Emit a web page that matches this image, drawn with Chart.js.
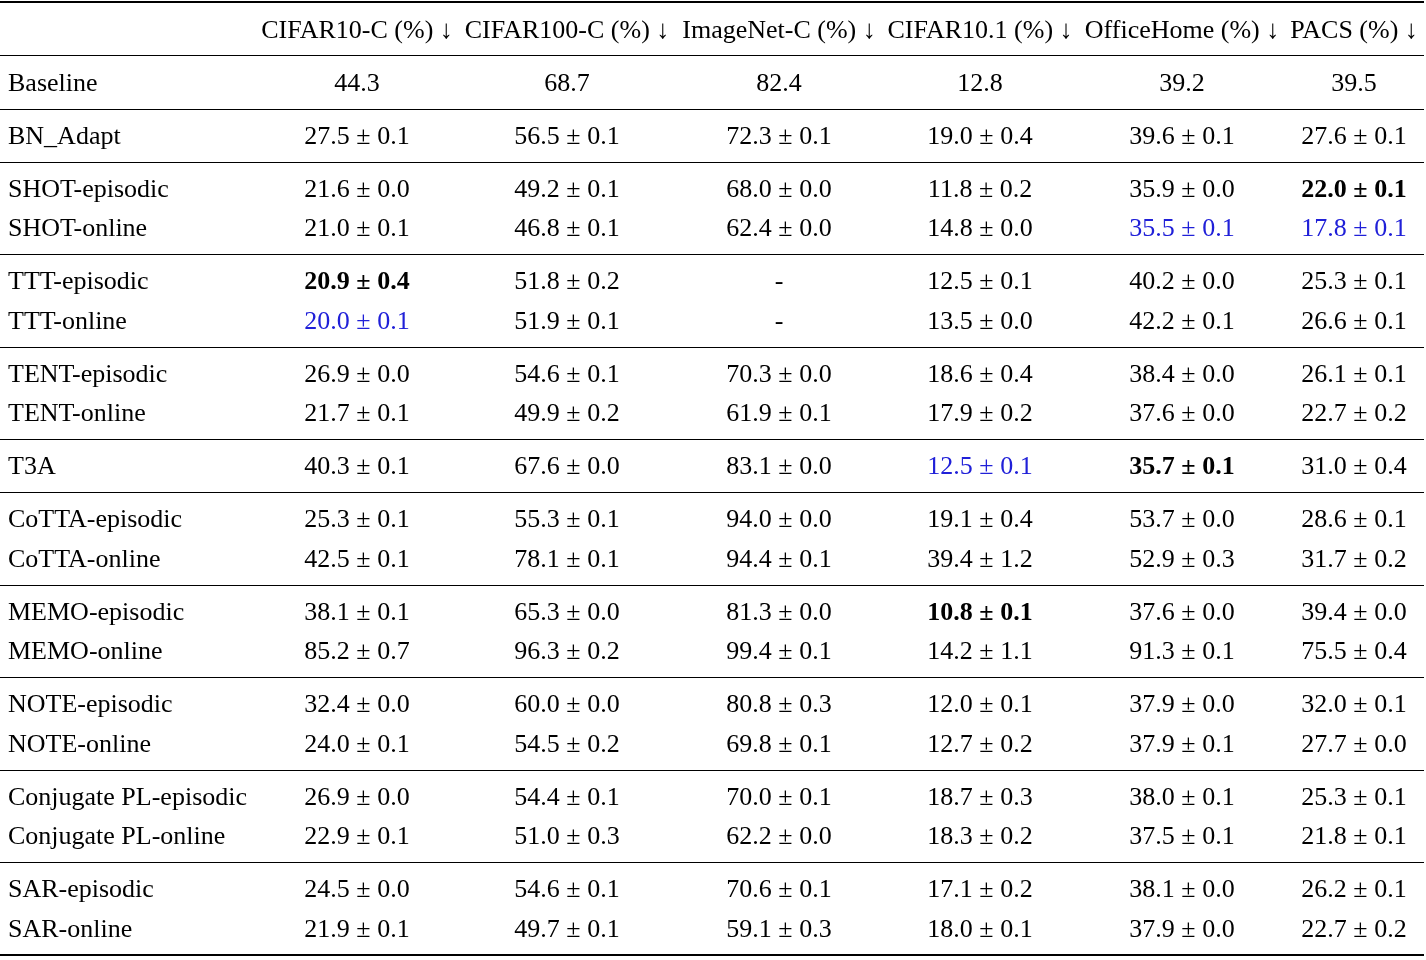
<!DOCTYPE html>
<html>
<head>
<meta charset="utf-8">
<script src="https://cdn.jsdelivr.net/npm/chart.js@4.4.0/dist/chart.umd.min.js"></script>
<style>html,body{margin:0;background:#fff}</style>
</head>
<body>
<canvas id="c" width="1426" height="960"></canvas>
<script>
const columns = ['CIFAR10-C (%) ↓', 'CIFAR100-C (%) ↓', 'ImageNet-C (%) ↓', 'CIFAR10.1 (%) ↓', 'OfficeHome (%) ↓', 'PACS (%) ↓'];
const groups = [
  ['Baseline'], ['BN_Adapt'], ['SHOT-episodic', 'SHOT-online'], ['TTT-episodic', 'TTT-online'],
  ['TENT-episodic', 'TENT-online'], ['T3A'], ['CoTTA-episodic', 'CoTTA-online'],
  ['MEMO-episodic', 'MEMO-online'], ['NOTE-episodic', 'NOTE-online'],
  ['Conjugate PL-episodic', 'Conjugate PL-online'], ['SAR-episodic', 'SAR-online']
];
const cifar10c = ['44.3','27.5 ± 0.1','21.6 ± 0.0','21.0 ± 0.1','20.9 ± 0.4','20.0 ± 0.1','26.9 ± 0.0','21.7 ± 0.1','40.3 ± 0.1','25.3 ± 0.1','42.5 ± 0.1','38.1 ± 0.1','85.2 ± 0.7','32.4 ± 0.0','24.0 ± 0.1','26.9 ± 0.0','22.9 ± 0.1','24.5 ± 0.0','21.9 ± 0.1'];
const cifar100c = ['68.7','56.5 ± 0.1','49.2 ± 0.1','46.8 ± 0.1','51.8 ± 0.2','51.9 ± 0.1','54.6 ± 0.1','49.9 ± 0.2','67.6 ± 0.0','55.3 ± 0.1','78.1 ± 0.1','65.3 ± 0.0','96.3 ± 0.2','60.0 ± 0.0','54.5 ± 0.2','54.4 ± 0.1','51.0 ± 0.3','54.6 ± 0.1','49.7 ± 0.1'];
const imagenetc = ['82.4','72.3 ± 0.1','68.0 ± 0.0','62.4 ± 0.0','-','-','70.3 ± 0.0','61.9 ± 0.1','83.1 ± 0.0','94.0 ± 0.0','94.4 ± 0.1','81.3 ± 0.0','99.4 ± 0.1','80.8 ± 0.3','69.8 ± 0.1','70.0 ± 0.1','62.2 ± 0.0','70.6 ± 0.1','59.1 ± 0.3'];
const cifar101 = ['12.8','19.0 ± 0.4','11.8 ± 0.2','14.8 ± 0.0','12.5 ± 0.1','13.5 ± 0.0','18.6 ± 0.4','17.9 ± 0.2','12.5 ± 0.1','19.1 ± 0.4','39.4 ± 1.2','10.8 ± 0.1','14.2 ± 1.1','12.0 ± 0.1','12.7 ± 0.2','18.7 ± 0.3','18.3 ± 0.2','17.1 ± 0.2','18.0 ± 0.1'];
const officehome = ['39.2','39.6 ± 0.1','35.9 ± 0.0','35.5 ± 0.1','40.2 ± 0.0','42.2 ± 0.1','38.4 ± 0.0','37.6 ± 0.0','35.7 ± 0.1','53.7 ± 0.0','52.9 ± 0.3','37.6 ± 0.0','91.3 ± 0.1','37.9 ± 0.0','37.9 ± 0.1','38.0 ± 0.1','37.5 ± 0.1','38.1 ± 0.0','37.9 ± 0.0'];
const pacs = ['39.5','27.6 ± 0.1','22.0 ± 0.1','17.8 ± 0.1','25.3 ± 0.1','26.6 ± 0.1','26.1 ± 0.1','22.7 ± 0.2','31.0 ± 0.4','28.6 ± 0.1','31.7 ± 0.2','39.4 ± 0.0','75.5 ± 0.4','32.0 ± 0.1','27.7 ± 0.0','25.3 ± 0.1','21.8 ± 0.1','26.2 ± 0.1','22.7 ± 0.2'];
const values = [cifar10c, cifar100c, imagenetc, cifar101, officehome, pacs];
// best (bold) and second best (blue) cells as "col,row"
const boldCells = ['0,4', '3,11', '4,8', '5,2'];
const blueCells = ['0,5', '3,8', '4,3', '5,3'];

// layout (pixels)
const colX = [357, 567, 779, 980, 1182, 1354];
const headerY = 31, firstRowY = 84, rowGap = 39.5, groupGap = 53;
const methods = [], rowY = [], sepY = [];
let y = firstRowY;
groups.forEach((g, gi) => {
  if (gi > 0) { sepY.push(y - groupGap / 2 - 2); }
  g.forEach((m, mi) => { methods.push(m); rowY.push(y); y += (mi < g.length - 1) ? rowGap : groupGap; });
});

const font = '26px "Liberation Serif", "DejaVu Serif", serif';
const tablePlugin = {
  id: 'table',
  afterDatasetsDraw(chart) {
    const ctx = chart.ctx, xs = chart.scales.x, ys = chart.scales.y;
    ctx.save();
    ctx.textBaseline = 'middle';
    const rule = (yy, w) => {
      const py = Math.round(ys.getPixelForValue(yy)) + (w < 1.5 ? 0.5 : 0);
      ctx.beginPath(); ctx.lineWidth = w; ctx.strokeStyle = '#000';
      ctx.moveTo(xs.getPixelForValue(0), py);
      ctx.lineTo(xs.getPixelForValue(1424), py); ctx.stroke();
    };
    rule(2, 2); rule(55, 1); sepY.forEach(s => rule(s, 1)); rule(955, 2);
    ctx.font = font; ctx.fillStyle = '#000'; ctx.textAlign = 'center';
    columns.forEach((c, i) => ctx.fillText(c, xs.getPixelForValue(colX[i]), ys.getPixelForValue(headerY)));
    ctx.textAlign = 'left';
    methods.forEach((m, r) => ctx.fillText(m, xs.getPixelForValue(8), ys.getPixelForValue(rowY[r])));
    ctx.textAlign = 'center';
    chart.data.datasets.forEach((ds, c) => {
      chart.getDatasetMeta(c).data.forEach((pt, r) => {
        const key = c + ',' + r;
        ctx.font = boldCells.includes(key) ? 'bold ' + font : font;
        ctx.fillStyle = blueCells.includes(key) ? '#2020d8' : '#000';
        ctx.fillText(values[c][r], pt.x, pt.y);
      });
    });
    ctx.restore();
  }
};

new Chart(document.getElementById('c'), {
  type: 'scatter',
  data: {
    datasets: values.map((col, c) => ({
      label: columns[c],
      data: col.map((v, r) => ({ x: colX[c], y: rowY[r] })),
      pointRadius: 0
    }))
  },
  options: {
    responsive: false, animation: false, devicePixelRatio: 1,
    layout: { padding: 0 },
    plugins: { legend: { display: false }, tooltip: { enabled: false } },
    scales: {
      x: { type: 'linear', min: 0, max: 1426, display: false },
      y: { type: 'linear', min: 0, max: 960, reverse: true, display: false }
    }
  },
  plugins: [tablePlugin]
});
</script>
</body>
</html>
